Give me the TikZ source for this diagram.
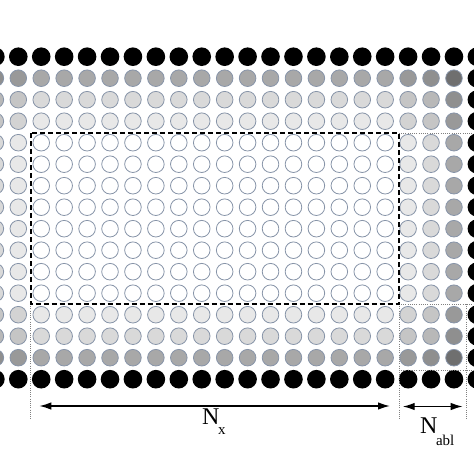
\documentclass[tikz,border=0pt]{standalone}
\usepackage{fontspec}
\setmainfont{Liberation Serif}
\usetikzlibrary{arrows.meta}

\definecolor{rimblue}{RGB}{135,148,168}

% N with a dropped subscript
\newcommand{\Nlbl}[2]{N\kern-1.5pt\raisebox{-#2}{\fontsize{15}{15}\selectfont #1}}

\begin{document}
\begin{tikzpicture}[
  x=1pt, y=-1pt,
  >={Latex[length=12pt,width=7.5pt]},
  cell/.style={draw=rimblue, line width=0.8pt},
  wall/.style={fill=black},
  dom/.style={line width=2.2pt, dash pattern=on 5pt off 3pt},
  guide/.style={gray, line width=0.5pt, dash pattern=on 1pt off 1.2pt},
  dim/.style={<->, line width=1.4pt},
  lbl/.style={font=\fontsize{24}{24}\selectfont, inner sep=0pt, anchor=base west},
]

% ── Parameters (unit = 1 px, y pointing down) ────────────────────────────────
\def\xo{18.3}         % x of column 0
\def\colstep{22.93}   % column spacing
\def\yo{56.7}         % y of row 0 (top wall)
\def\rowstep{21.5}    % row spacing
\def\rc{8.3}          % radius of a fluid cell
\def\rw{9.3}          % radius of a wall cell

\useasboundingbox (0,0) rectangle (474,474);
\clip (0,0) rectangle (474,474);

% ── Cells: white inside, darker towards the absorbing layers, black walls ────
\foreach \c in {-1,...,20}{
  \foreach \r in {0,...,15}{
    \pgfmathtruncatemacro{\lx}{max(0,1-\c,\c-16)}   % layer depth in x
    \pgfmathtruncatemacro{\ly}{max(0,4-\r,\r-11)}   % layer depth in y
    \pgfmathsetmacro{\px}{\xo+\colstep*\c}
    \pgfmathsetmacro{\py}{\yo+\rowstep*\r}
    \pgfmathtruncatemacro{\iswall}{or(\lx>3,\ly>3)}
    \ifnum\iswall=1
      \fill[wall] (\px,\py) circle[radius=\rw pt];
    \else
      \pgfmathsetmacro{\shade}{100*(1-{1,0.91,0.85,0.66}[\lx]*{1,0.91,0.85,0.66}[\ly])}
      \filldraw[cell, fill=black!\shade] (\px,\py) circle[radius=\rc pt];
    \fi
  }
}

% ── Guide lines of the absorbing layer ───────────────────────────────────────
\draw[guide] (30.7,304) -- (30.7,420);
\draw[guide] (398.8,304) -- (398.8,420);
\draw[guide] (466,304) -- (466,420);
\draw[guide] (398.8,133) -- (474,133);
\draw[guide] (398.8,304) -- (474,304);
\draw[guide] (398.8,370) -- (474,370);

% ── Physical domain ──────────────────────────────────────────────────────────
\draw[dom] (30.7,133) rectangle (398.8,304);

% ── Dimensions N_x and N_abl ─────────────────────────────────────────────────
\coordinate (nxW) at (39.3,406);
\coordinate (nxE) at (390,406);
\coordinate (ablW) at (402.7,406.5);
\coordinate (ablE) at (462.7,406.5);
\draw[dim] (nxW) -- (nxE);
\draw[dim] (ablW) -- (ablE);

\node[lbl] (lblNx) at (202,424) {\Nlbl{x}{10pt}};
\node[lbl] (lblNabl) at (420,433) {\Nlbl{abl}{12pt}};

\end{tikzpicture}
\end{document}
